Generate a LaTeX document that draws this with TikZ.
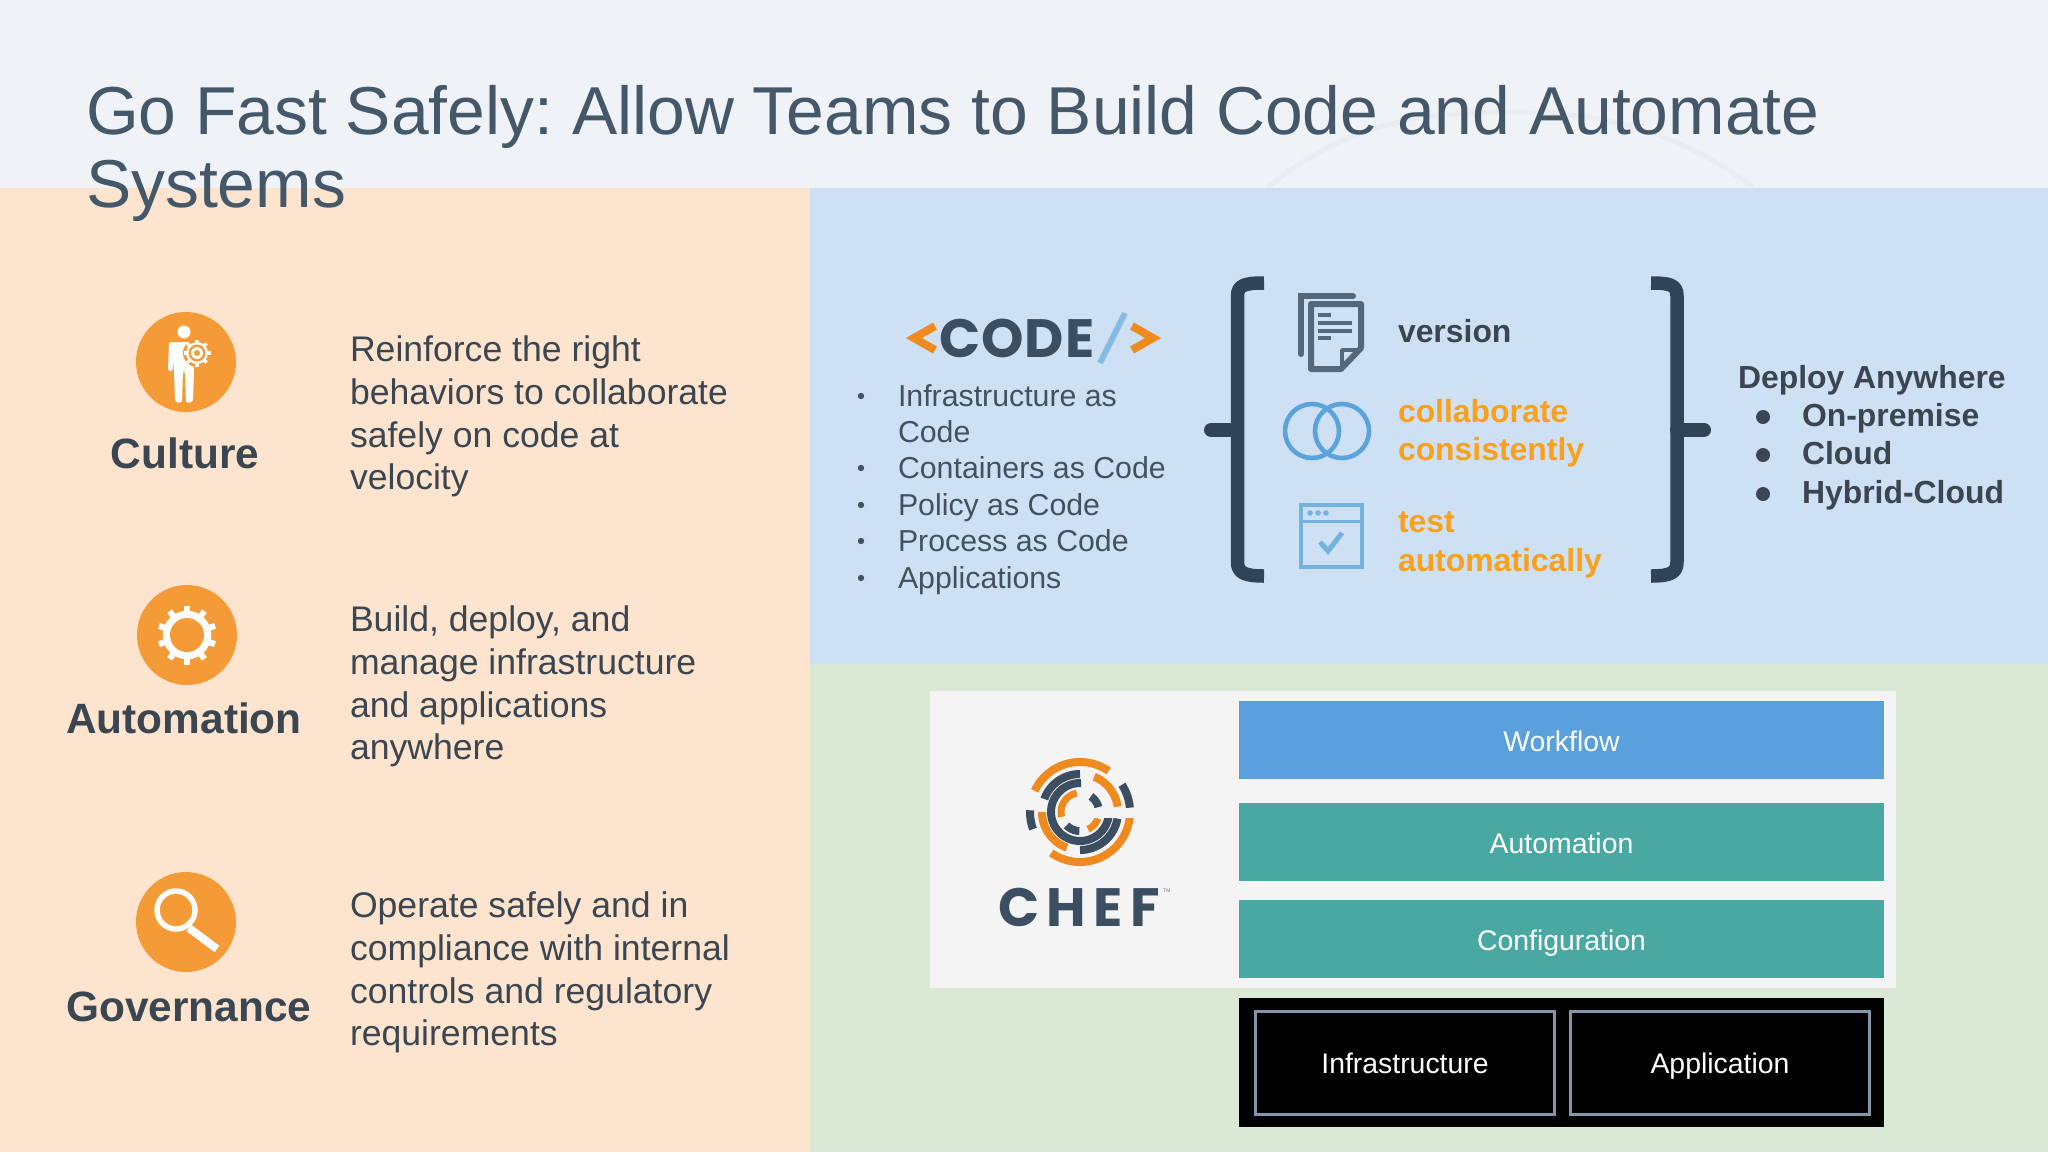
\documentclass[tikz,border=0pt]{standalone}
\usepackage{fontspec}
\setmainfont{Liberation Sans}
\newfontfamily\logofont[LetterSpace=14]{Poppins}
\newfontfamily\codefont[LetterSpace=2]{Poppins}
\definecolor{topbg}{HTML}{EFF3F7}
\definecolor{peach}{HTML}{FDE4CF}
\definecolor{skyb}{HTML}{CEE1F4}
\definecolor{greenb}{HTML}{DAE9D4}
\definecolor{panel}{HTML}{F4F4F5}
\definecolor{titlec}{HTML}{44586A}
\definecolor{ink}{HTML}{3B4650}
\definecolor{listc}{HTML}{44525F}
\definecolor{navy}{HTML}{2F4359}
\definecolor{iconor}{HTML}{F49A37}
\definecolor{orangetxt}{HTML}{F9A11B}
\definecolor{logoor}{HTML}{EE8A1E}
\definecolor{logodk}{HTML}{3C4F62}
\definecolor{blueicon}{HTML}{5BA3DC}
\definecolor{blueicon2}{HTML}{74B2E0}
\definecolor{docg}{HTML}{55677A}
\definecolor{flowb}{HTML}{59A0DD}
\definecolor{teal}{HTML}{4AA8A2}
\definecolor{frameg}{HTML}{8496AA}
\tikzset{
  x=1pt,y=-1pt,
  txt/.style={anchor=base west,inner sep=0pt,outer sep=0pt,align=left},
  titletxt/.style={txt,text=titlec,font=\frenchspacing\fontsize{67.8}{73}\selectfont},
  headtxt/.style={anchor=base,inner sep=0pt,text=ink,font=\fontsize{42.4}{46}\bfseries\selectfont},
  desctxt/.style={txt,text=ink,font=\fontsize{35.6}{36}\selectfont},
  listtxt/.style={txt,text=listc,font=\fontsize{30.3}{31}\selectfont},
  boldtxt/.style={txt,font=\fontsize{31.9}{32}\bfseries\selectfont},
  boxtxt/.style={anchor=center,inner sep=0pt,text=white,text height=22pt,text depth=0pt,font=\fontsize{28.4}{29}\selectfont},
  framedtxt/.style={boxtxt,text height=20pt,draw=frameg,line width=2.6pt,minimum width=299pt,minimum height=103pt},
  icondisc/.style={fill=iconor,draw=none},
  bracestroke/.style={draw=navy,line width=13.5pt,line cap=butt,line join=round},
  arcdk/.style={draw=logodk,line width=8pt,line cap=butt},
  arcor/.style={draw=logoor,line width=8pt,line cap=butt},
  arcdkt/.style={draw=logodk,line width=8pt,line cap=butt},
  arcort/.style={draw=logoor,line width=7pt,line cap=butt},
}
\newcommand{\logoarc}[5][]{\draw[#2] plot[smooth,domain=#3:#4,samples=40] ({1080+#5*cos(\x)},{812-#5*sin(\x)});}
\begin{document}
\begin{tikzpicture}
\useasboundingbox (0,0) rectangle (2048,1152);
% backgrounds
\fill[topbg] (0,0) rectangle (2048,188);
\draw[color=black!2.5!topbg,line width=5pt] (1268,187) .. controls (1350,120) and (1430,112) .. (1508,112) .. controls (1590,112) and (1670,125) .. (1753,187);
\fill[peach] (0,188) rectangle (810,1152);
\fill[skyb] (810,188) rectangle (2048,664);
\fill[greenb] (810,664) rectangle (2048,1152);
% title
\node[titletxt] (title1) at (86,134) {Go Fast Safely: Allow Teams to Build Code and Automate};
\node[titletxt] (title2) at (86,207) {Systems};
% Culture
\fill[icondisc] (186,362) circle (50);
\fill[white] (184,332) circle (6.5);
\fill[white,rounded corners=2.5pt] (169,342) -- (194,342) -- (194,370) -- (193,402) -- (186,403) -- (185,371) -- (183,371) -- (182,403) -- (175,402) -- (174,370) -- (174,360) -- (173,371) -- (168,371) -- cycle;
\fill[iconor] (197,353) circle (14);
\fill[white] (197,353) circle (11);
\foreach \a in {0,45,...,315}{\draw[white,line width=3.4pt] (197,353) -- ++(\a:13.5);}
\fill[iconor] (197,353) circle (8.5);
\fill[white] (197,353) circle (6);
\fill[iconor] (197,353) circle (3);
\node[headtxt] (culture) at (185,468) {Culture};
\node[desctxt] (d1a) at (350,361) {Reinforce the right};
\node[desctxt] (d1b) at (350,404) {behaviors to collaborate};
\node[desctxt] (d1c) at (350,447) {safely on code at};
\node[desctxt] (d1d) at (350,489) {velocity};
% Automation
\fill[icondisc] (187,635) circle (50);
\draw[white,line width=7.5pt] (187,635) circle (20.5);
\foreach \a in {0,36,...,324}{\draw[white,line width=6pt] (187,635) -- ++(\a+18:29.5);}
\fill[iconor] (187,635) circle (17);
\node[headtxt] (automation) at (184,733) {Automation};
\node[desctxt] (d2a) at (350,631) {Build, deploy, and};
\node[desctxt] (d2b) at (350,674) {manage infrastructure};
\node[desctxt] (d2c) at (350,717) {and applications};
\node[desctxt] (d2d) at (350,759) {anywhere};
% Governance
\fill[icondisc] (186,922) circle (50);
\draw[white!92!peach,line width=5.5pt] (176,910) circle (19);
\draw[white!92!peach,line width=8pt] (189,928) -- (217,949);
\node[headtxt] (governance) at (189,1021) {Governance};
\node[desctxt] (d3a) at (350,917) {Operate safely and in};
\node[desctxt] (d3b) at (350,960) {compliance with internal};
\node[desctxt] (d3c) at (350,1003) {controls and regulatory};
\node[desctxt] (d3d) at (350,1045) {requirements};
% CODE logo
\draw[logoor,line width=8pt,miter limit=10] (935,326) -- (914,338) -- (935,350);
\node[anchor=base west,inner sep=0pt,text=logodk,font=\codefont\fontsize{54}{54}\bfseries\selectfont] (codelogo) at (939,357) {CODE};
\draw[blueicon2!80!skyb,line width=6pt] (1100,363) -- (1125,313);
\draw[logoor,line width=8pt,miter limit=10] (1132,326) -- (1153,338) -- (1132,350);
% list
\foreach \y/\n/\t in {406/a/Infrastructure as,442/b/Code,478/c/Containers as Code,515/d/Policy as Code,551/e/Process as Code,588/f/Applications}{
  \node[listtxt] (li\n) at (898,\y) {\t};
}
\foreach \y in {396,468,505,541,578}{\fill[listc] (861,\y) circle (3.2);}
% left brace
\draw[bracestroke] (1264,283) .. controls (1245,283) and (1237.5,285) .. (1237.5,296) -- (1237.5,562) .. controls (1237.5,573) and (1245,576) .. (1264,576);
\draw[navy,line width=14pt,line cap=round] (1211,430) -- (1237,430);
% right brace
\draw[bracestroke] (1651,283) .. controls (1670,283) and (1677,285) .. (1677,296) -- (1677,562) .. controls (1677,573) and (1670,576) .. (1651,576);
\draw[navy,line width=14pt,line cap=round] (1677,430) -- (1704,430);
% document icon
\draw[docg,line width=6pt,line cap=round] (1301,354) -- (1301,296) -- (1353,296);
\draw[docg,line width=6pt,line join=round,fill=skyb] (1311,304) -- (1361,304) -- (1361,348) -- (1341,369) -- (1311,369) -- cycle;
\draw[docg,line width=3.5pt,line join=round] (1361,350) -- (1342,350) -- (1342,369);
\foreach \y/\xe in {315/1331,323/1352,331/1352,338/1331}{\draw[docg,line width=3.2pt] (1318,\y) -- (\xe,\y);}
% rings
\draw[blueicon,line width=4.6pt] (1312,431) circle (27);
\draw[blueicon,line width=4.6pt] (1342,431) circle (27);
% browser icon
\draw[blueicon2,line width=4.5pt] (1301,505) rectangle (1362,567);
\draw[blueicon2,line width=3pt] (1301,521) -- (1362,521);
\foreach \x in {1310,1318,1326}{\fill[blueicon2] (\x,513) circle (2.8);}
\draw[blueicon2,line width=5pt] (1320,542) -- (1328,551) -- (1342,533);
% action texts
\node[boldtxt,text=ink] (version) at (1398,342) {version};
\node[boldtxt,text=orangetxt] (collab) at (1398,422) {collaborate};
\node[boldtxt,text=orangetxt] (consist) at (1398,460) {consistently};
\node[boldtxt,text=orangetxt] (testw) at (1398,532) {test};
\node[boldtxt,text=orangetxt] (autom) at (1398,571) {automatically};
% deploy
\node[boldtxt,text=ink] (deploy) at (1738,388) {Deploy Anywhere};
\foreach \y/\n/\t/\by in {426/a/On-premise/417,464/b/Cloud/455,503/c/Hybrid-Cloud/494}{
  \node[boldtxt,text=ink] (dep\n) at (1802,\y) {\t};
  \fill[ink] (1763,\by) circle (7);
}
% chef panel
\fill[panel] (930,691) rectangle (1896,988);
\node[boxtxt,fill=flowb,minimum width=645pt,minimum height=78pt] (workflow) at (1561.5,740) {Workflow};
\node[boxtxt,fill=teal,minimum width=645pt,minimum height=78pt] (automationbox) at (1561.5,842) {Automation};
\node[boxtxt,fill=teal,minimum width=645pt,minimum height=78pt] (configuration) at (1561.5,939) {Configuration};
% chef logo
\logoarc{arcor}{155}{55}{50}
\logoarc{arcor}{0}{-125}{50}
\logoarc{arcdk}{33}{5}{50}
\logoarc{arcdk}{200}{178}{50}
\logoarc{arcdk}{160}{90}{38}
\logoarc{arcor}{68}{8}{38}
\logoarc{arcor}{180}{250}{38}
\logoarc{arcdk}{270}{350}{38}
\logoarc{arcdkt}{88}{358}{29}
\logoarc{arcort}{100}{195}{19}
\logoarc{arcdkt}{55}{15}{19}
\logoarc{arcdkt}{225}{268}{19}
\logoarc{arcort}{295}{340}{19}
\fill[panel] (1083,807.5) rectangle (1136,818);
\node[anchor=base west,inner sep=0pt,text=logodk,font=\logofont\fontsize{54}{54}\bfseries\selectfont] (cheflogo) at (998,926) {CHEF};
\node[inner sep=0pt,text=gray,font=\fontsize{5}{5}\selectfont] (chefmark) at (1167,891) {TM};
% bottom
\fill[black] (1239,998) rectangle (1884,1127);
\node[framedtxt] (infra) at (1405,1063) {Infrastructure};
\node[framedtxt] (appl) at (1720,1063) {Application};
\end{tikzpicture}
\end{document}
